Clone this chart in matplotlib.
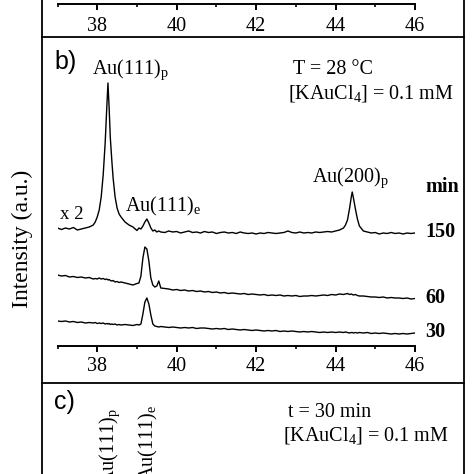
import numpy as np
import matplotlib
matplotlib.use("Agg")
import matplotlib.pyplot as plt
from matplotlib.lines import Line2D

plt.rcParams['font.family'] = ['Liberation Serif', 'DejaVu Serif']
plt.rcParams['mathtext.fontset'] = 'custom'
plt.rcParams['mathtext.rm'] = 'Liberation Serif'
plt.rcParams['mathtext.it'] = 'Liberation Serif:italic'

# 2theta sampling (deg)
two_theta = [37.0, 37.1, 37.2, 37.3, 37.4, 37.5, 37.6, 37.7, 37.8, 37.9,
             37.95, 38.0, 38.05, 38.1, 38.15, 38.2, 38.24, 38.27, 38.3, 38.33,
             38.37, 38.4, 38.45, 38.5, 38.55, 38.6,
             38.7, 38.8, 38.9, 39.0, 39.05, 39.1, 39.15, 39.2, 39.25, 39.3,
             39.35, 39.4, 39.45, 39.5, 39.55, 39.6,
             39.7, 39.8, 39.9, 40.0, 40.1, 40.2, 40.3, 40.4, 40.5, 40.6,
             40.7, 40.8, 40.9, 41.0, 41.1, 41.2, 41.3, 41.4, 41.5, 41.6,
             41.7, 41.8, 41.9, 42.0, 42.1, 42.2, 42.3, 42.4, 42.5, 42.6,
             42.7, 42.8, 42.9, 43.0, 43.1, 43.2, 43.3, 43.4, 43.5, 43.6,
             43.7, 43.8, 43.9, 44.0, 44.1,
             44.2, 44.25, 44.3, 44.35, 44.4, 44.42, 44.45, 44.5, 44.55, 44.6,
             44.7, 44.8, 44.9, 45.0, 45.1, 45.2, 45.3, 45.4, 45.5, 45.6,
             45.7, 45.8, 45.9, 46.0]

# intensity (a.u.), curves already offset as in the figure
i_150 = [118, 116.5, 118, 117, 118.5, 116, 117, 118, 119, 121,
         124, 129, 136, 149, 171, 203, 238, 263, 238, 208,
         184, 168, 149, 138, 132, 129,
         124, 121, 119, 115.5, 118, 117, 120, 124, 127, 123,
         118, 115, 116, 114, 115, 114,
         113.5, 115, 114, 114.5, 113, 114, 115, 113.5, 114, 113,
         114.5, 113.5, 114, 112.5, 113.5, 114, 113, 113.5, 112.5, 114,
         113, 112.5, 113, 112, 113, 112.5, 113.5, 113, 112.5, 113,
         113.5, 115, 113.5, 113, 114, 113, 113.5, 113, 114, 113.5,
         114, 114.5, 114, 115, 116,
         118, 121, 126, 137, 150, 154, 148, 137, 127, 120,
         115, 114, 113, 113.5, 112, 113, 112.5, 113.5, 112.5, 113,
         112, 113, 112.5, 113]

i_60 = [71, 70, 70.5, 69, 69.5, 68.5, 69, 68, 68.5, 67,
        67.5, 67, 68, 67, 67.5, 66.5, 67, 66, 66.5, 65.5,
        65, 65.5, 64, 64.5, 63.5, 64,
        63, 62, 61, 62.5, 63, 70, 88, 99, 97, 85,
        68, 61, 59, 60, 65, 58,
        57.5, 57, 56, 56.5, 55.5, 56, 55, 55.5, 54.5, 55,
        54, 54.5, 53.5, 54, 53, 53.5, 52.5, 53, 52.5, 52,
        52.5, 51.5, 52, 51.5, 51, 51.5, 50.5, 51, 50.5, 51,
        50, 50.5, 50, 50.5, 49.5, 50, 50, 50.5, 50, 50.5,
        51, 50.5, 51.5, 51, 52,
        51.5, 52, 52.5, 51.5, 52, 51.5, 51, 51.5, 50.5, 50,
        50, 49.5, 49, 49, 48.5, 49, 48, 48.5, 48, 48,
        47.5, 48, 47, 47.5]

i_30 = [25, 24.5, 25, 24, 24.5, 23.5, 24, 23, 23.5, 23,
        23.5, 22.5, 23, 22.5, 23, 22, 22.5, 22, 22.5, 21.5,
        22, 21.5, 22, 21, 21.5, 21,
        21.5, 21, 20.5, 21.5, 21, 22, 32, 44, 48, 42,
        31, 22, 20, 19.5, 19, 19.5,
        19, 18.5, 19, 18.5, 18, 18.5, 18, 18.5, 17.5, 18,
        18, 17.5, 17, 17.5, 17, 17.5, 16.5, 17, 16.5, 16,
        16.5, 16, 15.5, 16, 15.5, 15, 15.5, 15, 15.5, 14.5,
        15, 14.5, 15, 14.5, 14, 14.5, 14, 14.5, 14, 13.5,
        14, 13.5, 14, 13.5, 14,
        13.5, 14, 13.5, 13, 13.5, 13.5, 13, 13.5, 13, 13.5,
        13, 13.5, 12.5, 13, 12.5, 13, 12.5, 12, 12.5, 12,
        12.5, 12, 12.5, 13]

xticks = [38, 40, 42, 44, 46]
minor_ticks = [37, 39, 41, 43, 45]

W = 474.0
FS = 14.5  # text size of the serif labels

def fx(x):
    return x / W

def fy(y):
    return 1 - y / W

def style_axis(ax, pad):
    ax.set_xlim(37, 46)
    for s in ['left', 'right', 'top']:
        ax.spines[s].set_visible(False)
    ax.spines['bottom'].set_linewidth(1.4)
    ax.set_yticks([])
    ax.set_xticks(xticks)
    ax.set_xticks(minor_ticks, minor=True)
    ax.tick_params(axis='x', which='major', direction='out', length=4.5, width=1.4,
                   labelsize=FS, pad=pad)
    ax.tick_params(axis='x', which='minor', direction='out', length=2.5, width=1.2)
    ax.patch.set_visible(False)

fig = plt.figure(figsize=(4.74, 4.74), dpi=100)

# top panel (only its x axis is visible)
ax_top = fig.add_axes([fx(57.5), fy(4), (415 - 57.5) / W, 0.3])
style_axis(ax_top, 5)

# panel b
ax = fig.add_axes([fx(57.5), fy(346), (415 - 57.5) / W, (346 - 38) / W])
style_axis(ax, 3.5)
ax.set_ylim(0, 308)
for y in [i_150, i_60, i_30]:
    ax.plot(two_theta, y, color='black', lw=1.0)

# frame around the panels
fkw = dict(color='black', lw=1.3, transform=fig.transFigure)
fig.add_artist(Line2D([fx(42), fx(42)], [0, 1], **fkw))
fig.add_artist(Line2D([fx(464), fx(464)], [0, 1], **fkw))
fig.add_artist(Line2D([fx(42), fx(464)], [fy(37), fy(37)], **fkw))
fig.add_artist(Line2D([fx(42), fx(464)], [fy(383), fy(383)], **fkw))

fig.text(fx(427), fy(5), '0.02', fontsize=FS, fontweight='bold', va='bottom')

fig.text(fx(22), fy(239), 'Intensity (a.u.)', fontsize=17, rotation=90,
         ha='center', va='center')

# labels of panel b
fig.text(fx(54), fy(62), 'b)', family='Liberation Sans', fontsize=18, va='center')
fig.text(fx(92), fy(74), r'Au(111)$_\mathrm{p}$', fontsize=FS, va='baseline')
fig.text(fx(293), fy(74), 'T = 28 °C', fontsize=FS, va='baseline')
fig.text(fx(288), fy(98), r'[KAuCl$_4$] = 0.1 mM', fontsize=FS, va='baseline')
fig.text(fx(60), fy(219), 'x 2', fontsize=13.5, va='baseline')
fig.text(fx(125), fy(211), r'Au(111)$_\mathrm{e}$', fontsize=FS, va='baseline')
fig.text(fx(312), fy(182), r'Au(200)$_\mathrm{p}$', fontsize=FS, va='baseline')
fig.text(fx(425), fy(192), 'min', fontsize=FS, fontweight='bold', va='baseline')
fig.text(fx(425), fy(237), '150', fontsize=FS, fontweight='bold', va='baseline')
fig.text(fx(425), fy(303), '60', fontsize=FS, fontweight='bold', va='baseline')
fig.text(fx(425), fy(337), '30', fontsize=FS, fontweight='bold', va='baseline')

# labels of panel c (cut by the image border)
fig.text(fx(54), fy(402), 'c)', family='Liberation Sans', fontsize=18, va='center')
fig.text(fx(288), fy(417), 't = 30 min', fontsize=FS, va='baseline')
fig.text(fx(283), fy(441), r'[KAuCl$_4$] = 0.1 mM', fontsize=FS, va='baseline')
fig.text(fx(110), fy(408), r'Au(111)$_\mathrm{p}$', fontsize=FS, rotation=90,
         ha='center', va='top')
fig.text(fx(148), fy(405), r'Au(111)$_\mathrm{e}$', fontsize=FS, rotation=90,
         ha='center', va='top')

fig.savefig('out.png', dpi=100)
